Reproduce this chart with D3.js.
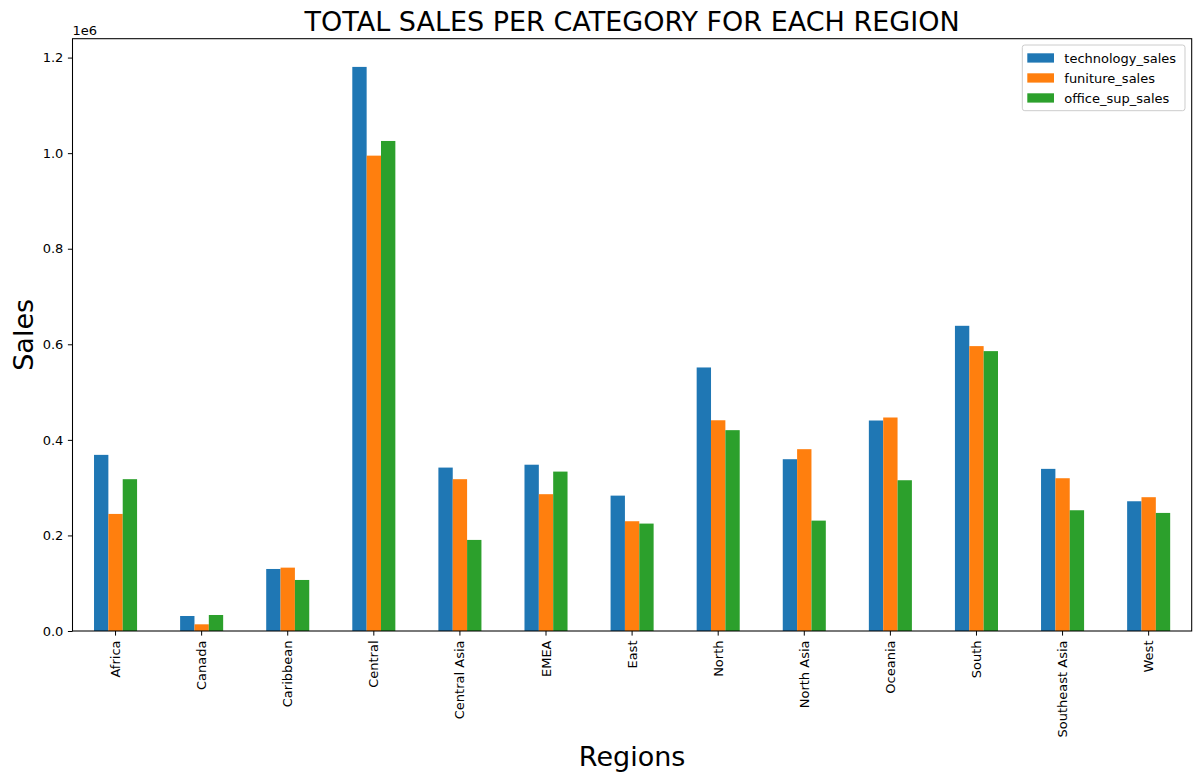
<!DOCTYPE html>
<html>
<head>
<meta charset="utf-8">
<script src="https://cdn.jsdelivr.net/npm/d3@7"></script>
<style>
	body { margin: 0; background: #fff; }
	svg { display: block; font-family: "DejaVu Sans", sans-serif; }
</style>
</head>
<body>
<script>
// data
var regions = ['Africa', 'Canada', 'Caribbean', 'Central', 'Central Asia', 'EMEA', 'East',
	'North', 'North Asia', 'Oceania', 'South', 'Southeast Asia', 'West'];
var seriesNames = ['technology_sales', 'funiture_sales', 'office_sup_sales'];
var technologySales = [368600, 31400, 129800, 1180500, 342000, 348000, 283300, 551500, 359500, 440500, 638700, 339300, 271500];
var funitureSales = [245000, 14000, 132600, 994800, 317700, 286300, 229700, 441000, 380500, 446800, 596200, 319700, 280000];
var officeSupSales = [317700, 33500, 106800, 1025500, 190600, 333600, 224800, 420300, 231000, 315500, 585700, 252700, 247100];
var yTicks = [0, 200000, 400000, 600000, 800000, 1000000, 1200000];
var colors = ['#1f77b4', '#ff7f0e', '#2ca02c'];

var props = {
	width: 1200,
	height: 782,
	left: 72.5,
	right: 1191.7,
	top: 38.7,
	bottom: 631
};

var svg = d3.select('body')
	.append('svg')
		.attr('width', props.width)
		.attr('height', props.height);

var allSeries = [technologySales, funitureSales, officeSupSales];
var rows = regions.map(function(r, i) {
	return { region: r, values: allSeries.map(function(s, k) { return { key: seriesNames[k], value: s[i], k: k }; }) };
});

var x = d3.scaleBand()
	.domain(regions)
	.range([props.left, props.right])
	.paddingInner(0.5)
	.paddingOuter(0.25);

var xInner = d3.scaleBand()
	.domain(seriesNames)
	.range([0, x.bandwidth()]);

var yMax = d3.max(allSeries, function(s) { return d3.max(s); }) * 1.05;
var y = d3.scaleLinear()
	.domain([0, yMax])
	.range([props.bottom, props.top]);

// bars
svg.append('g')
	.selectAll('g')
	.data(rows)
	.join('g')
		.attr('transform', function(d) { return 'translate(' + x(d.region) + ',0)'; })
	.selectAll('rect')
	.data(function(d) { return d.values; })
	.join('rect')
		.attr('x', function(d) { return xInner(d.key); })
		.attr('y', function(d) { return y(d.value); })
		.attr('width', xInner.bandwidth())
		.attr('height', function(d) { return y(0) - y(d.value); })
		.attr('fill', function(d) { return colors[d.k]; });

// axes
var xAxis = d3.axisBottom(x).tickSizeOuter(0).tickSize(4.6).tickPadding(4);
var gx = svg.append('g')
	.attr('transform', 'translate(0,' + props.bottom + ')')
	.call(xAxis);
gx.select('.domain').remove();
gx.selectAll('.tick line').attr('stroke', '#000').attr('stroke-width', 1);
gx.selectAll('.tick text')
	.attr('font-size', 13)
	.attr('font-family', 'DejaVu Sans')
	.attr('fill', '#000')
	.attr('transform', 'rotate(-90)')
	.attr('x', -9.5)
	.attr('y', 0)
	.attr('dy', '0.35em')
	.style('text-anchor', 'end');

var yAxis = d3.axisLeft(y)
	.tickValues(yTicks)
	.tickFormat(function(d) { return (d / 1e6).toFixed(1); })
	.tickSizeOuter(0)
	.tickSize(4.6)
	.tickPadding(4.6);
var gy = svg.append('g')
	.attr('transform', 'translate(' + props.left + ',0)')
	.call(yAxis);
gy.select('.domain').remove();
gy.selectAll('.tick line').attr('stroke', '#000').attr('stroke-width', 1);
gy.selectAll('.tick text')
	.attr('font-size', 13)
	.attr('font-family', 'DejaVu Sans')
	.attr('fill', '#000');

// frame
svg.append('rect')
	.attr('x', props.left)
	.attr('y', props.top)
	.attr('width', props.right - props.left)
	.attr('height', props.bottom - props.top)
	.attr('fill', 'none')
	.attr('stroke', '#000')
	.attr('stroke-width', 1.05);

// offset text
svg.append('text')
	.attr('x', props.left)
	.attr('y', 34.5)
	.attr('font-size', 13)
	.text('1e6');

// title and labels
svg.append('text')
	.attr('x', (props.left + props.right) / 2)
	.attr('y', 31)
	.attr('text-anchor', 'middle')
	.attr('font-size', 27)
	.text('TOTAL SALES PER CATEGORY FOR EACH REGION');

svg.append('text')
	.attr('x', (props.left + props.right) / 2)
	.attr('y', 766)
	.attr('text-anchor', 'middle')
	.attr('font-size', 27)
	.text('Regions');

svg.append('text')
	.attr('transform', 'translate(33,' + (props.top + props.bottom) / 2 + ') rotate(-90)')
	.attr('text-anchor', 'middle')
	.attr('font-size', 27)
	.text('Sales');

// legend
var legend = svg.append('g').attr('transform', 'translate(1022.3,45)');
legend.append('rect')
	.attr('width', 162.7)
	.attr('height', 65.7)
	.attr('rx', 2.5)
	.attr('fill', '#fff')
	.attr('fill-opacity', 0.8)
	.attr('stroke', '#cccccc')
	.attr('stroke-width', 1);
var items = legend.selectAll('g.item')
	.data(seriesNames)
	.join('g')
		.attr('class', 'item')
		.attr('transform', function(d, i) { return 'translate(5,' + (8.3 + i * 20) + ')'; });
items.append('rect')
	.attr('width', 26.7)
	.attr('height', 9.3)
	.attr('fill', function(d, i) { return colors[i]; });
items.append('text')
	.attr('x', 37)
	.attr('y', 9.3)
	.attr('font-size', 13)
	.text(function(d) { return d; });
</script>
</body>
</html>
